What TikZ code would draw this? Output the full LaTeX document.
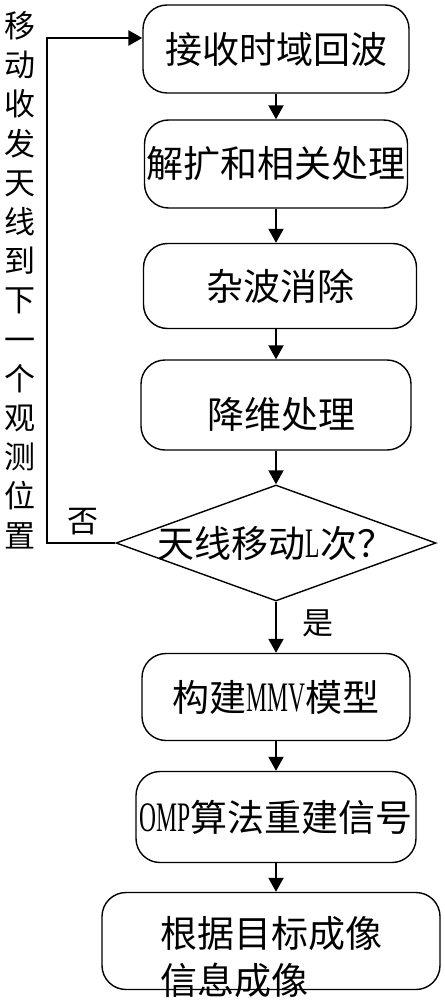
\documentclass[tikz,border=0pt]{standalone}
\usepackage{fontspec}
\setmainfont{Liberation Serif}
\newfontfamily\cjk{Noto Sans CJK SC}
\newfontfamily\narrowrm[FakeStretch=0.56]{Liberation Serif}
\usetikzlibrary{shapes.geometric,arrows.meta}
\newcommand{\lat}[1]{{\narrowrm\fontsize{42}{47}\selectfont #1}}

\begin{document}
\begin{tikzpicture}[x=1pt, y=-1pt,
  stepbox/.style={rectangle, draw, rounded corners=24pt, line width=1.4pt,
                  minimum width=266pt, minimum height=88pt, inner sep=0pt,
                  font=\cjk\fontsize{37}{47}\selectfont},
  decision/.style={diamond, draw, line width=1.4pt, minimum width=320pt,
                   minimum height=116pt, inner sep=0pt},
  arrow/.style={-{Triangle[length=14pt,width=15pt]}, line width=2pt},
  side/.style={font=\cjk\fontsize{31}{39.2}\selectfont, align=center, inner sep=0pt}
]
  \useasboundingbox (0,0) rectangle (444,1000);

  % Schritte
  \node[stepbox] (recv) at (276,49) {接收时域回波};
  \node[stepbox, minimum width=263pt] (desp) at (276,164) {解扩和相关处理};
  \node[stepbox, minimum width=273pt, minimum height=85pt] (clut) at (280,286) {杂波消除};
  \node[stepbox, minimum width=270pt, minimum height=90pt,
        label={[font=\cjk\fontsize{37}{47}\selectfont, xshift=5pt, yshift=-9pt]center:降维处理}]
        (dimr) at (276,405) {};

  % Abfrage
  \node[decision, label={[font=\cjk\fontsize{37}{47}\selectfont]center:天线移动\lat{L}次？}]
        (dec) at (276,543) {};

  \node[stepbox, minimum width=268pt, minimum height=87pt] (mmv) at (276,697) {构建\lat{MMV}模型};
  \node[stepbox, minimum width=280pt, minimum height=91pt] (omp) at (276,817) {\lat{OMP}算法重建信号};
  \node[stepbox, minimum width=338pt, minimum height=97pt,
        label={[font=\cjk\fontsize{37}{47}\selectfont, align=left, yshift=-16pt]center:根据目标成像\\信息成像}]
        (img) at (271,941) {};

  % Pfeile
  \draw[arrow] (recv.south) -- (desp.north);
  \draw[arrow] (desp.south) -- (desp.south |- clut.north);
  \draw[arrow] (dimr.north |- clut.south) -- (dimr.north);
  \draw[arrow] (dimr.south) -- (dec.north);
  \draw[arrow] (dec.south) -- (mmv.north);
  \draw[arrow] (mmv.south) -- (omp.north);
  \draw[arrow] (omp.south) -- (omp.south |- img.north);

  % Rueckfuehrung
  \coordinate (turn) at (47,38);
  \draw[arrow, line width=2.6pt] (dec.west) -| (turn) -- (turn -| recv.west);
  \node[side] (move) at (20,280) {移\\动\\收\\发\\天\\线\\到\\下\\一\\个\\观\\测\\位\\置};
  \node[side] (no) at (83,522) {否};
  \node[side] (yes) at (318,623) {是};
\end{tikzpicture}
\end{document}
